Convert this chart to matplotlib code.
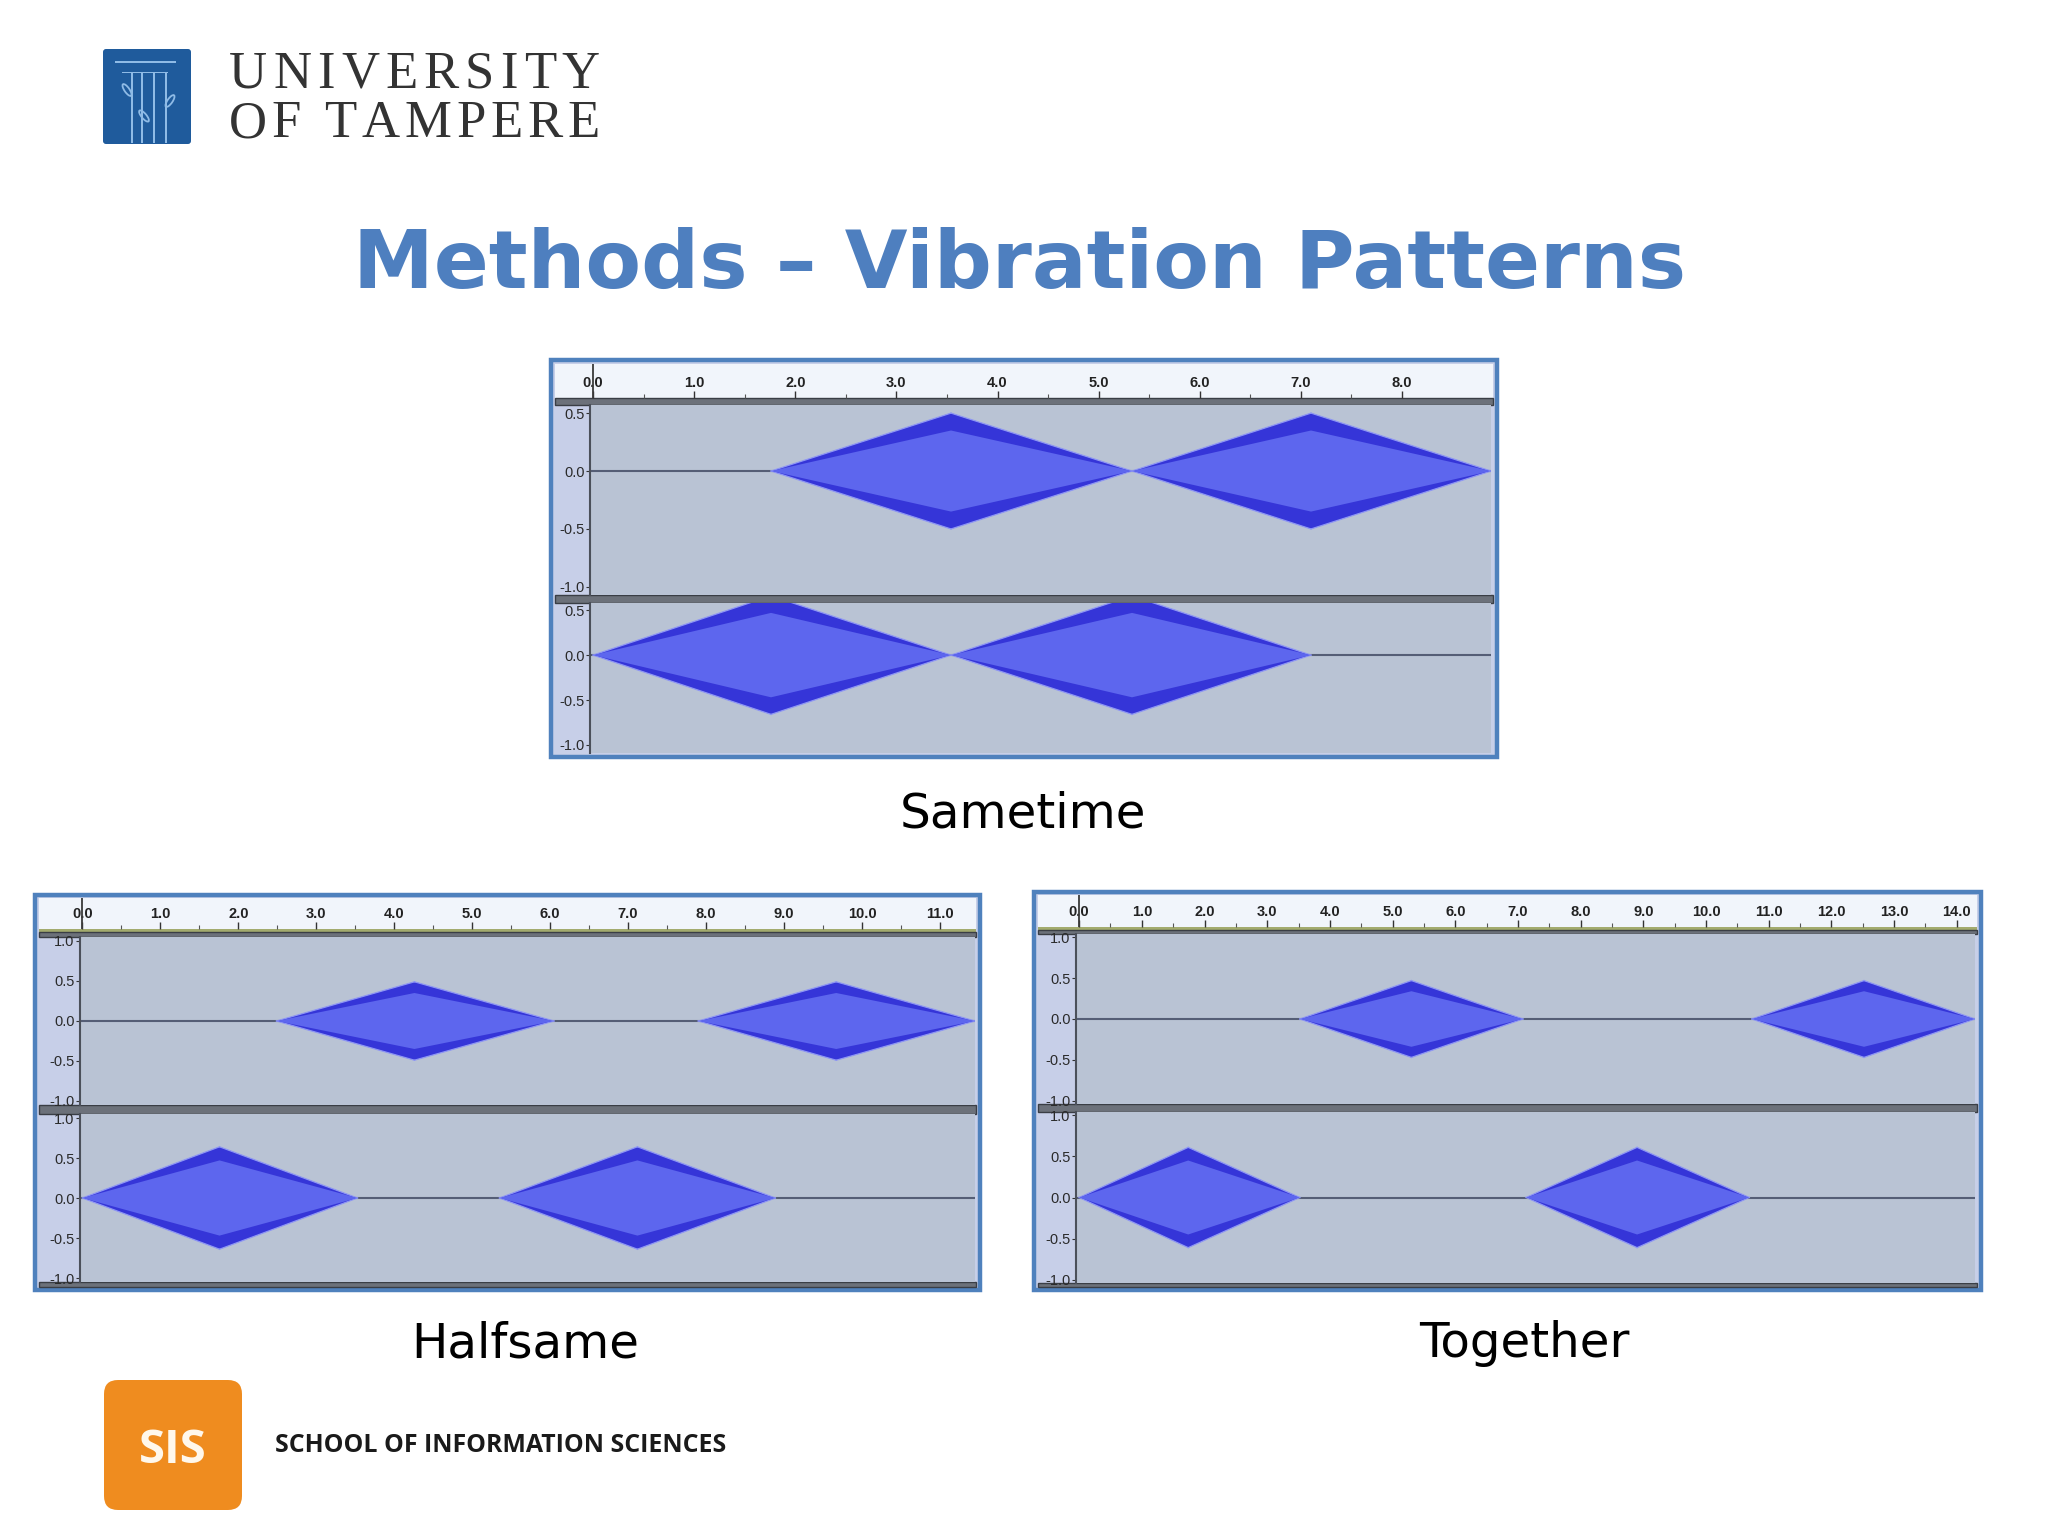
import numpy as np
import matplotlib
matplotlib.use("Agg")
import matplotlib.pyplot as plt
from matplotlib.patches import Rectangle, FancyBboxPatch, Ellipse
from matplotlib.transforms import IdentityTransform

# ---- data (time in s, envelope amplitude) ----
# Sametime
same_x1 = [0.0, 1.76, 3.54, 5.33, 7.10, 8.88]
same_peak1 = [0.0, 0.0, 0.50, 0.0, 0.50, 0.0]
same_rms1 = [0.0, 0.0, 0.35, 0.0, 0.35, 0.0]
same_x2 = [0.0, 1.76, 3.54, 5.33, 7.10, 8.88]
same_peak2 = [0.0, 0.66, 0.0, 0.66, 0.0, 0.0]
same_rms2 = [0.0, 0.47, 0.0, 0.47, 0.0, 0.0]
same_ticks = [0, 1, 2, 3, 4, 5, 6, 7, 8]

# Halfsame
half_x1 = [0.0, 2.49, 4.26, 6.05, 7.90, 9.67, 11.45]
half_peak1 = [0.0, 0.0, 0.49, 0.0, 0.0, 0.49, 0.0]
half_rms1 = [0.0, 0.0, 0.35, 0.0, 0.0, 0.35, 0.0]
half_x2 = [0.0, 1.76, 3.53, 5.35, 7.12, 8.89, 11.45]
half_peak2 = [0.0, 0.64, 0.0, 0.0, 0.64, 0.0, 0.0]
half_rms2 = [0.0, 0.47, 0.0, 0.0, 0.47, 0.0, 0.0]
half_ticks = [0, 1, 2, 3, 4, 5, 6, 7, 8, 9, 10, 11]

# Together
tog_x1 = [0.0, 3.52, 5.30, 7.08, 10.73, 12.52, 14.29]
tog_peak1 = [0.0, 0.0, 0.47, 0.0, 0.0, 0.47, 0.0]
tog_rms1 = [0.0, 0.0, 0.34, 0.0, 0.0, 0.34, 0.0]
tog_x2 = [0.0, 1.74, 3.52, 7.13, 8.90, 10.69, 14.29]
tog_peak2 = [0.0, 0.61, 0.0, 0.0, 0.61, 0.0, 0.0]
tog_rms2 = [0.0, 0.45, 0.0, 0.0, 0.45, 0.0, 0.0]
tog_ticks = [0, 1, 2, 3, 4, 5, 6, 7, 8, 9, 10, 11, 12, 13, 14]

y_ticks = [-1.0, -0.5, 0.0, 0.5, 1.0]

# ---- colours ----
BORDER = "#4f81bd"
LABEL_BG = "#c7cfe8"
RULER_BG = "#f1f5fb"
TRACK_BG = "#b9c3d4"
BAND = "#6c717a"
BAND_EDGE = "#3a3e45"
OLIVE = "#a3ab6e"
PEAK_C = "#3535d8"
RMS_C = "#5d66ee"
EDGE_C = "#8e96f4"
ZERO_C = "#555e76"

W, H = 2048, 1536
fig = plt.figure(figsize=(W / 100, H / 100), dpi=100)
fig.patch.set_facecolor("white")


def fbox(x0, y0, x1, y1):
    # pixel box (top-left origin) -> figure fractions
    return [x0 / W, 1 - y1 / H, (x1 - x0) / W, (y1 - y0) / H]


def frect(x0, y0, x1, y1, z=-5, **kw):
    b = fbox(x0, y0, x1, y1)
    fig.add_artist(Rectangle((b[0], b[1]), b[2], b[3],
                             transform=fig.transFigure, zorder=z, **kw))


def band(x0, x1, y0, y1):
    frect(x0, y0, x1, y1, z=-3, facecolor=BAND, edgecolor=BAND_EDGE, lw=1.0)


def draw_ruler(x0, x1, y0, y1, px0, px1, xlim, ticks):
    frect(x0, y0, x1, y1, z=-4, facecolor=RULER_BG, edgecolor="none")
    ax = fig.add_axes(fbox(px0, y0, px1, y1))
    ax.patch.set_visible(False)
    ax.set_xticks(ticks, labels=[f"{v:.1f}" for v in ticks])
    ax.set_xticks(np.array(ticks[:-1]) + 0.5, minor=True)
    ax.set_xlim(xlim)
    ax.set_ylim(0, 1)
    ax.tick_params(axis="x", which="major", direction="in", length=5, width=1.0,
                   color="#333333", labelsize=10.5, labelcolor="#222222", pad=-16)
    ax.tick_params(axis="x", which="minor", direction="in", length=3, width=0.8,
                   color="#555555")
    for lab in ax.get_xticklabels():
        lab.set_fontweight("bold")
        lab.set_family("Liberation Sans")
    ax.set_yticks([])
    for s in ax.spines.values():
        s.set_visible(False)
    ax.axvline(0, color="#3a3a3a", lw=1.3)


def draw_track(px0, px1, y0, y1, xlim, ylim, xs, peak, rms):
    ax = fig.add_axes(fbox(px0, y0, px1, y1))
    ax.set_facecolor(TRACK_BG)
    ax.axhline(0, color=ZERO_C, lw=1.5, zorder=1)
    xs = np.array(xs)
    peak = np.array(peak)
    rms = np.array(rms)
    ax.fill_between(xs, -peak, peak, facecolor=PEAK_C, lw=0, zorder=2)
    ax.fill_between(xs, -rms, rms, facecolor=RMS_C, lw=0, zorder=3)
    # light anti-aliased rim on the envelope edges
    for i in range(len(xs) - 1):
        if peak[i] > 0 or peak[i + 1] > 0:
            for sgn in (1, -1):
                ax.plot(xs[i:i + 2], sgn * peak[i:i + 2], color=EDGE_C, lw=0.9,
                        zorder=2.5)
    ax.set_xticks([])
    ax.set_yticks(y_ticks, labels=[f"{v:.1f}" for v in y_ticks])
    ax.set_xlim(xlim)
    ax.set_ylim(ylim)
    ax.tick_params(axis="y", direction="out", length=3, width=0.8, color="#333333",
                   labelsize=10.5, labelcolor="#2a2a2a", pad=1)
    for lab in ax.get_yticklabels():
        lab.set_family("Liberation Sans")
    for s in ["top", "right", "bottom"]:
        ax.spines[s].set_visible(False)
    ax.spines["left"].set_color("#4b505a")
    ax.spines["left"].set_linewidth(1.5)
    return ax


def draw_panel(outer, ruler_y, olive, t1_y, t2_y, px, xlim, ylims, ticks, series):
    x0, y0, x1, y1 = outer
    ix0, ix1 = x0 + 4, x1 - 4
    frect(x0, y0, x1, y1, z=-6, facecolor=LABEL_BG, edgecolor=BORDER, lw=3.2)
    draw_ruler(ix0, ix1, ruler_y[0], ruler_y[1], px[0], px[1], xlim, ticks)
    if olive:
        frect(ix0, ruler_y[1], ix1, ruler_y[1] + 3, z=-3, facecolor=OLIVE, edgecolor="none")
        band(ix0, ix1, ruler_y[1] + 3, t1_y[0])
    else:
        band(ix0, ix1, ruler_y[1], t1_y[0])
    band(ix0, ix1, t1_y[1], t2_y[0])
    if y1 - 4 - t2_y[1] > 1:
        band(ix0, ix1, t2_y[1], y1 - 3)
    (xa, pa, ra), (xb, pb, rb) = series
    draw_track(px[0], px[1], t1_y[0], t1_y[1], xlim, ylims[0], xa, pa, ra)
    draw_track(px[0], px[1], t2_y[0], t2_y[1], xlim, ylims[1], xb, pb, rb)


# Sametime (top)
draw_panel((551, 360, 1497, 757), (364, 398), False, (405, 595), (603, 753),
           (590, 1491), (-0.03, 8.88), [(-1.07, 0.57), (-1.09, 0.58)], same_ticks,
           [(same_x1, same_peak1, same_rms1), (same_x2, same_peak2, same_rms2)])

# Halfsame (bottom left)
draw_panel((35, 895, 980, 1290), (898, 929), True, (937, 1105), (1114, 1282),
           (80, 975), (-0.03, 11.45), [(-1.05, 1.05), (-1.05, 1.05)], half_ticks,
           [(half_x1, half_peak1, half_rms1), (half_x2, half_peak2, half_rms2)])

# Together (bottom right)
draw_panel((1034, 892, 1981, 1290), (895, 927), True, (934, 1104), (1112, 1283),
           (1076, 1975), (-0.05, 14.29), [(-1.04, 1.04), (-1.04, 1.04)], tog_ticks,
           [(tog_x1, tog_peak1, tog_rms1), (tog_x2, tog_peak2, tog_rms2)])

# ---- texts ----
renderer = fig.canvas.get_renderer()


def fit_width(t, target):
    w = t.get_window_extent(renderer=renderer).width
    t.set_fontsize(t.get_fontsize() * target / w)
    return t.get_fontsize()


def ftext(x, y, s, **kw):
    return fig.text(x / W, 1 - y / H, s, **kw)


def spaced_text(x, y, s, total_width, **kw):
    # letter-spaced text: place glyphs one by one to fill total_width
    chars = [ftext(0, y, c, ha="left", va="baseline", **kw) for c in s]
    widths = [c.get_window_extent(renderer=renderer).width for c in chars]
    gap = (total_width - sum(widths)) / (len(s) - 1)
    cx = x
    for c, w in zip(chars, widths):
        c.set_x(cx / W)
        cx += w + gap


title = ftext(1019.5, 288, "Methods \u2013 Vibration Patterns", ha="center", va="baseline",
              fontsize=60, fontweight="bold", color="#4e7fbf", family="DejaVu Sans")
fit_width(title, 1333)

cap = ftext(1023, 827, "Sametime", ha="center", va="baseline", fontsize=36,
            color="black", family="DejaVu Sans")
cap_size = fit_width(cap, 247)
ftext(525, 1357, "Halfsame", ha="center", va="baseline", fontsize=cap_size,
      color="black", family="DejaVu Sans")
ftext(1524.5, 1357, "Together", ha="center", va="baseline", fontsize=cap_size,
      color="black", family="DejaVu Sans")

# University of Tampere logo
ident = IdentityTransform()
fig.add_artist(FancyBboxPatch((103, H - 144), 88, 95, boxstyle="round,pad=0,rounding_size=3",
                              facecolor="#1f5b9c", edgecolor="none", transform=ident))
logo_lines = "#8fbbe6"
fig.add_artist(Rectangle((115, H - 63), 61, 2, facecolor=logo_lines, edgecolor="none",
                         transform=ident))
fig.add_artist(Rectangle((122, H - 73), 46, 1.3, facecolor=logo_lines, edgecolor="none",
                         transform=ident))
for lx in [131, 141, 153, 165]:
    fig.add_artist(Rectangle((lx, H - 143), 1.6, 70, facecolor=logo_lines,
                             edgecolor="none", transform=ident))
for (ex, ey, ang) in [(127, 90, -55), (144, 116, -50), (170, 101, 55)]:
    fig.add_artist(Ellipse((ex, H - ey), 14, 5, angle=ang, facecolor="none",
                           edgecolor=logo_lines, lw=1.3, transform=ident))

spaced_text(229, 88, "UNIVERSITY", 371, fontsize=38, color="#333333",
            family="Liberation Serif")
spaced_text(229, 137, "OF TAMPERE", 371, fontsize=38, color="#333333",
            family="Liberation Serif")

# SIS logo
fig.add_artist(FancyBboxPatch((104, H - 1510), 138, 130, boxstyle="round,pad=0,rounding_size=14",
                              facecolor="#ef8c1f", edgecolor="none", transform=ident))
sis = ftext(173, 1463, "SIS", ha="center", va="baseline", fontsize=34,
            fontweight="bold", color="#fff8ec", family="Open Sans")
fit_width(sis, 68)
school = ftext(275, 1452, "SCHOOL OF INFORMATION SCIENCES", ha="left", va="baseline",
               fontsize=16, fontweight="bold", color="#1a1a1a", family="Open Sans")
fit_width(school, 452)

fig.savefig("out.png", dpi=100)
